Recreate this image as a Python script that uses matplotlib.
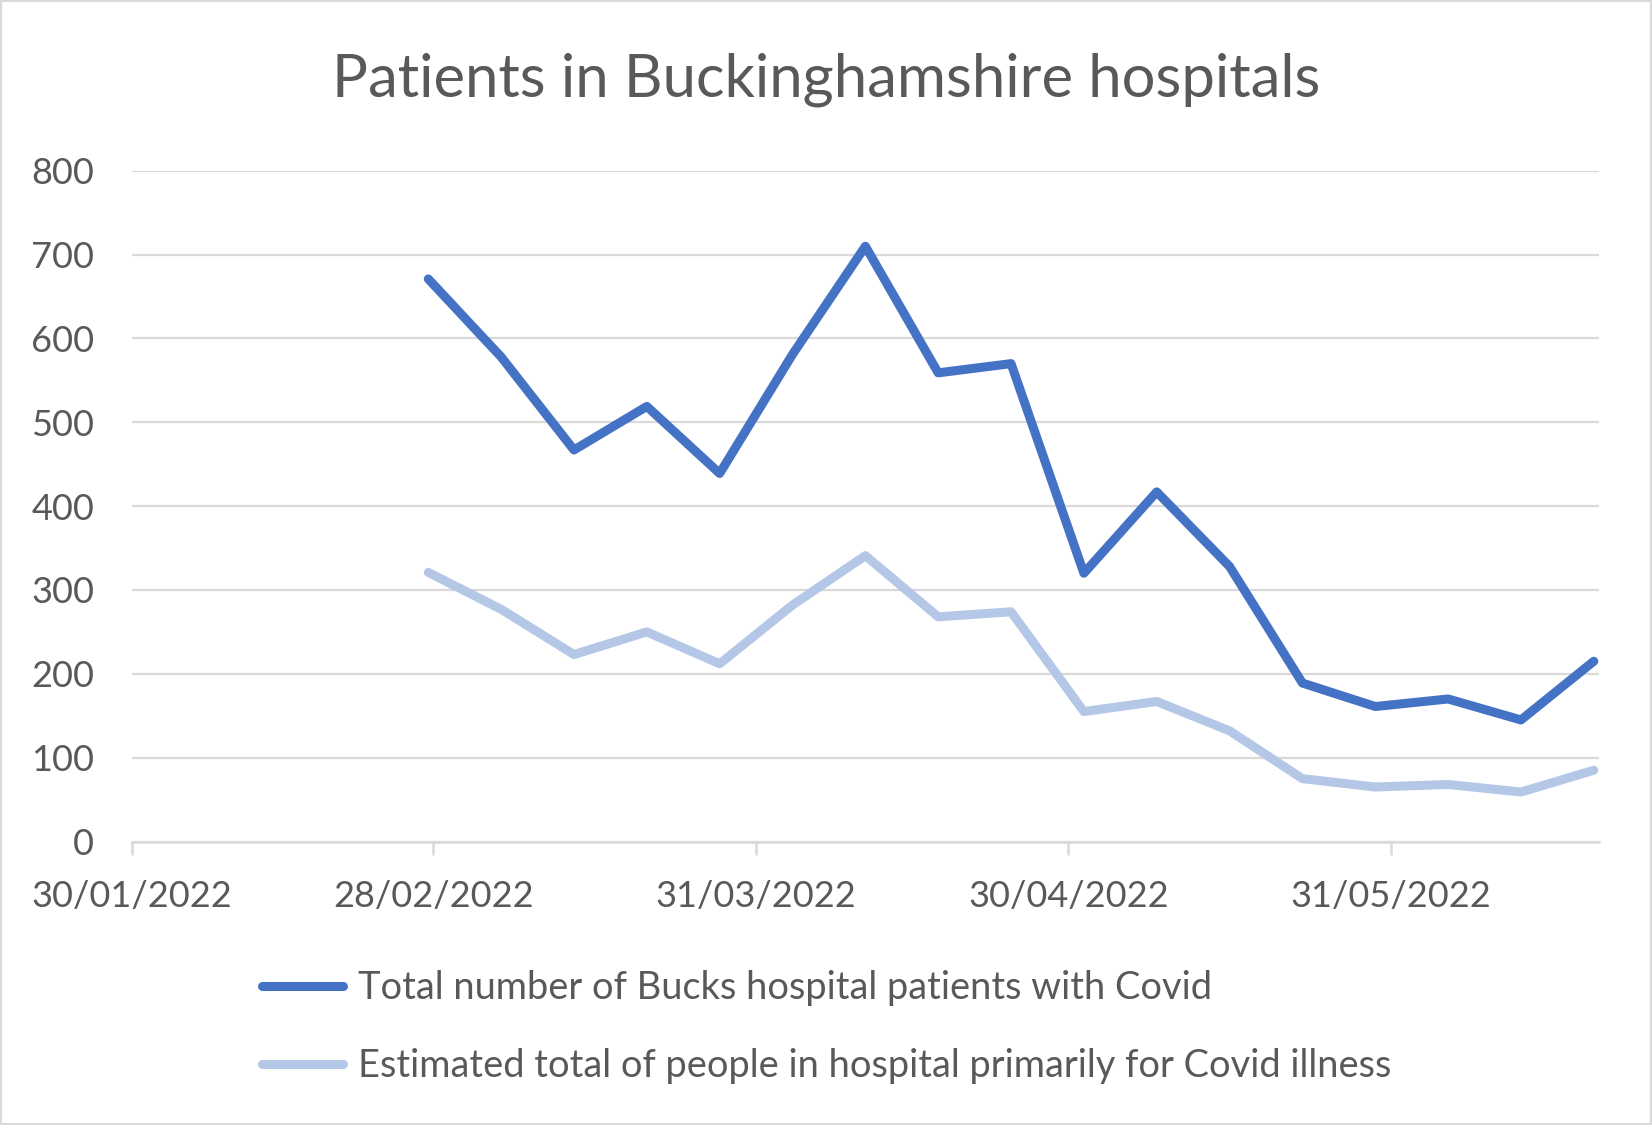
import matplotlib
matplotlib.use("Agg")
import matplotlib.pyplot as plt
import matplotlib.dates as mdates
from matplotlib.patches import Rectangle
import datetime as dt

# ---- data ----
start_date = dt.date(2022, 2, 27)
n_weeks = 17
dates = [start_date + dt.timedelta(days=7 * i) for i in range(n_weeks)]
total_with_covid = [671, 578, 467, 519, 439, 581, 710, 559, 570, 320, 417, 328, 189, 161, 170, 145, 215]
primarily_covid = [321, 277, 223, 250, 212, 282, 341, 268, 274, 155, 167, 132, 75, 65, 68, 59, 85]
tick_dates = [dt.date(2022, 1, 30), dt.date(2022, 2, 28), dt.date(2022, 3, 31),
              dt.date(2022, 4, 30), dt.date(2022, 5, 31)]
x_start = dt.date(2022, 1, 30)
x_end = dt.date(2022, 6, 20)
series_labels = ["Total number of Bucks hospital patients with Covid",
                 "Estimated total of people in hospital primarily for Covid illness"]
title = "Patients in Buckinghamshire hospitals"
yticks = [0, 100, 200, 300, 400, 500, 600, 700, 800]

# ---- style ----
plt.rcParams['font.family'] = ['Lato', 'DejaVu Sans']
text_color = "#595959"
grid_color = "#d9d9d9"
c_dark = "#4472C4"
c_light = "#B4C7E7"

W, H = 1652, 1125
fig = plt.figure(figsize=(W / 100, H / 100), dpi=100)
ax = fig.add_axes([131.7 / W, 1 - 841.5 / H, (1599 - 131.7) / W, (841.5 - 170.8) / H])

# points centred in day bins (Excel date axis)
xnum = mdates.date2num(dates) + 0.5
ax.plot(xnum, total_with_covid, color=c_dark, lw=6.5, solid_joinstyle='round',
        solid_capstyle='round', label=series_labels[0], zorder=3)
ax.plot(xnum, primarily_covid, color=c_light, lw=6.5, solid_joinstyle='round',
        solid_capstyle='round', label=series_labels[1], zorder=3)

ax.set_xlim(mdates.date2num(x_start), mdates.date2num(x_end))
ax.set_ylim(0, 800)
ax.set_yticks(yticks)
ax.set_xticks(mdates.date2num(tick_dates))
ax.set_xticklabels([d.strftime("%d/%m/%Y") for d in tick_dates])

ax.grid(axis='y', color=grid_color, lw=1.6, zorder=0)
for s in ['top', 'right', 'left']:
    ax.spines[s].set_visible(False)
ax.spines['bottom'].set_color(grid_color)
ax.spines['bottom'].set_linewidth(1.8)
ax.tick_params(axis='y', length=0, pad=27, labelsize=26, labelcolor=text_color)
ax.tick_params(axis='x', length=9, width=1.8, color=grid_color, pad=19,
               labelsize=26, labelcolor=text_color)

fig.text(0.5, 1 - 80 / H, title, ha='center', va='center', fontsize=43, color=text_color)

leg = fig.legend(loc='center left', bbox_to_anchor=(262 / W, 1 - 1027 / H),
                 frameon=False, fontsize=27.4, handlelength=2.14, handletextpad=0.38,
                 labelspacing=1.1, borderpad=0, borderaxespad=0,
                 labelcolor=text_color)
for line in leg.get_lines():
    line.set_linewidth(6.5)
    line.set_solid_capstyle('round')

fig.patches.append(Rectangle((0, 0), 1, 1, transform=fig.transFigure, fill=False,
                             edgecolor=grid_color, lw=3))

fig.savefig("out.png", dpi=100, facecolor='white')
